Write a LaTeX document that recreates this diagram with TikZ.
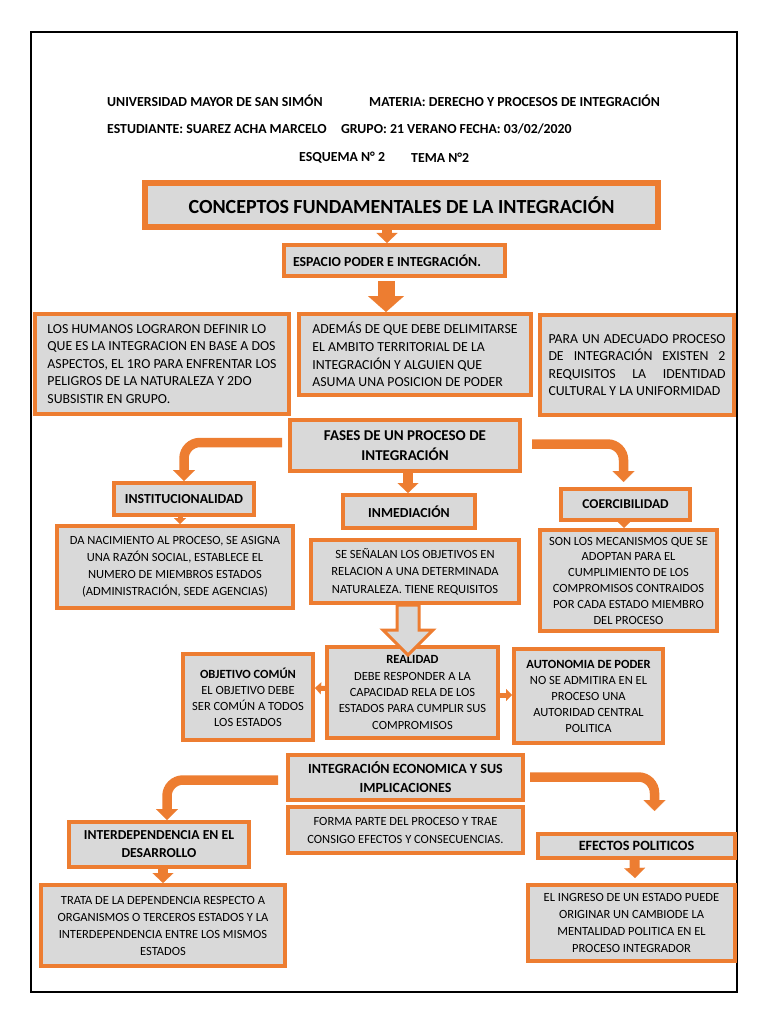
\documentclass[tikz,border=0pt]{standalone}
\usepackage{fontspec}
\setmainfont{Carlito}
\usetikzlibrary{arrows.meta}
\definecolor{naranja}{HTML}{ED7D31}
\definecolor{gris}{HTML}{D9D9D9}
\newcommand{\letra}[2]{\fontsize{#1}{#2}\selectfont}

\begin{document}
\begin{tikzpicture}[x=1pt, y=-1pt,
	caja/.style={draw=naranja, fill=gris, line width=4pt, align=center, inner sep=2pt, font=\letra{12.5}{17}},
	cabecera/.style={anchor=west, inner sep=0pt, font=\letra{13.8}{16}\bfseries},
	flecha/.style={draw=naranja, line width=10pt, -{Triangle[width=21pt,length=10pt,line width=0.1pt]}},
	flechagrande/.style={draw=naranja, line width=17pt, -{Triangle[width=36pt,length=16pt,line width=0.1pt]}},
	curva/.style={draw=naranja, line width=9.5pt, rounded corners=16pt, -{Triangle[width=22pt,length=11pt,line width=0.1pt]}},
	punta/.style={draw=naranja, line width=5pt, -{Triangle[width=12pt,length=6pt,line width=0.1pt]}},
	hueca/.style={draw=naranja, fill=gris, line width=3pt, line join=miter}]
	\useasboundingbox (0,0) rectangle (768,1024);
	\draw[line width=2pt] (31,32) rectangle (737,992);

	\node[cabecera] (univ) at (107,101) {UNIVERSIDAD MAYOR DE SAN SIMÓN};
	\node[cabecera] (materia) at (369,101) {MATERIA: DERECHO Y PROCESOS DE INTEGRACIÓN};
	\node[cabecera] (estud) at (107,129) {ESTUDIANTE: SUAREZ ACHA MARCELO};
	\node[cabecera] (grupo) at (341,129) {GRUPO: 21 VERANO FECHA: 03/02/2020};
	\node[cabecera] (esquema) at (299,158) {ESQUEMA N° 2};
	\node[cabecera] (tema) at (411,158) {TEMA N°2};

	\node[caja, line width=6pt, minimum width=513pt, minimum height=44pt, font=\letra{20}{24}\bfseries] (titulo) at (401.5,205) {CONCEPTOS FUNDAMENTALES DE LA INTEGRACIÓN};
	\node[caja, minimum width=221pt, minimum height=31pt, text width=203pt, inner xsep=9pt, align=flush left, font=\letra{13.8}{16}\bfseries] (espacio) at (394.5,260.5) {ESPACIO PODER E INTEGRACIÓN.};

	\node[caja, minimum width=254pt, minimum height=100pt, align=left, font=\letra{13.8}{17.5}] (humanos) at (162,364) {LOS HUMANOS LOGRARON DEFINIR LO\\ QUE ES LA INTEGRACION EN BASE A DOS\\ ASPECTOS, EL 1RO PARA ENFRENTAR LOS\\ PELIGROS DE LA NATURALEZA Y 2DO\\ SUBSISTIR EN GRUPO.};
	\node[caja, minimum width=232pt, minimum height=81pt, align=left, font=\letra{13.8}{17.7}] (ademas) at (415,354.5) {ADEMÁS DE QUE DEBE DELIMITARSE\\ EL AMBITO TERRITORIAL DE LA\\ INTEGRACIÓN Y ALGUIEN QUE\\ ASUMA UNA POSICION DE PODER};
	\node[caja, minimum width=194pt, minimum height=100pt, align=left, font=\letra{13.8}{17.3}] (para) at (637,365) {\makebox[177pt][s]{PARA UN ADECUADO PROCESO}\\ \makebox[177pt][s]{DE INTEGRACIÓN EXISTEN 2}\\ \makebox[177pt][s]{REQUISITOS LA IDENTIDAD}\\ CULTURAL Y LA UNIFORMIDAD};

	\node[caja, minimum width=230pt, minimum height=51pt, font=\letra{15}{20}\bfseries] (fases) at (405,445.5) {FASES DE UN PROCESO DE\\ INTEGRACIÓN};
	\node[caja, minimum width=140pt, minimum height=32pt, font=\letra{13.8}{16}\bfseries] (inst) at (184,499) {INSTITUCIONALIDAD};
	\node[caja, minimum width=132pt, minimum height=33pt, font=\letra{13.8}{16}\bfseries] (inmed) at (409,511.5) {INMEDIACIÓN};
	\node[caja, minimum width=129pt, minimum height=31pt, font=\letra{13.5}{16}\bfseries] (coerc) at (625.5,504.5) {COERCIBILIDAD};

	\node[caja, minimum width=236pt, minimum height=82pt] (nacim) at (175,567) {DA NACIMIENTO AL PROCESO, SE ASIGNA\\ UNA RAZÓN SOCIAL, ESTABLECE EL\\ NUMERO DE MIEMBROS ESTADOS\\ (ADMINISTRACIÓN, SEDE AGENCIAS)};
	\node[caja, minimum width=208pt, minimum height=63pt, font=\letra{12.5}{17.5}] (senal) at (415,571.5) {SE SEÑALAN LOS OBJETIVOS EN\\ RELACION A UNA DETERMINADA\\ NATURALEZA. TIENE REQUISITOS};
	\node[caja, minimum width=177pt, minimum height=101pt, font=\letra{12.5}{15.8}] (mecan) at (628.5,580.5) {SON LOS MECANISMOS QUE SE\\ ADOPTAN PARA EL\\ CUMPLIMIENTO DE LOS\\ COMPROMISOS CONTRAIDOS\\ POR CADA ESTADO MIEMBRO\\ DEL PROCESO};

	\node[caja, minimum width=171pt, minimum height=91pt, font=\letra{12.5}{16.3}] (real) at (412.5,692.5) {{\bfseries REALIDAD}\\ DEBE RESPONDER A LA\\ CAPACIDAD RELA DE LOS\\ ESTADOS PARA CUMPLIR SUS\\ COMPROMISOS};
	\node[caja, minimum width=130pt, minimum height=86pt, font=\letra{12.5}{16}] (objet) at (248,697) {{\bfseries OBJETIVO COMÚN}\\ EL OBJETIVO DEBE\\ SER COMÚN A TODOS\\ LOS ESTADOS};
	\node[caja, minimum width=149pt, minimum height=94pt, font=\letra{12.5}{16}] (auton) at (588.5,696) {{\bfseries AUTONOMIA DE PODER}\\ NO SE ADMITIRA EN EL\\ PROCESO UNA\\ AUTORIDAD CENTRAL\\ POLITICA};
	\draw[hueca] ([xshift=-18pt]senal.south) -- ++(0,25) -- ++(-14,0) -- ++(25,25) -- ++(25,-25) -- ++(-14,0) -- ++(0,-25) -- cycle;

	\node[caja, minimum width=235pt, minimum height=45pt, font=\letra{14}{19}\bfseries] (econ) at (405.5,777.5) {INTEGRACIÓN ECONOMICA Y SUS\\ IMPLICACIONES};
	\node[caja, minimum width=235pt, minimum height=46pt, font=\letra{12.5}{18}] (forma) at (405.5,830) {FORMA PARTE DEL PROCESO Y TRAE\\ CONSIGO EFECTOS Y CONSECUENCIAS.};
	\node[caja, minimum width=180pt, minimum height=45pt, font=\letra{13.7}{18}\bfseries] (interdep) at (159,844.5) {INTERDEPENDENCIA EN EL\\ DESARROLLO};
	\node[caja, minimum width=244pt, minimum height=81pt] (trata) at (163,925.5) {TRATA DE LA DEPENDENCIA RESPECTO A\\ ORGANISMOS O TERCEROS ESTADOS Y LA\\ INTERDEPENDENCIA ENTRE LOS MISMOS\\ ESTADOS};
	\node[caja, minimum width=197pt, minimum height=24pt, font=\letra{14.2}{16}\bfseries] (efectos) at (636.5,846) {EFECTOS POLITICOS};
	\node[caja, minimum width=207pt, minimum height=76pt] (ingreso) at (631.5,923) {EL INGRESO DE UN ESTADO PUEDE\\ ORIGINAR UN CAMBIODE LA\\ MENTALIDAD POLITICA EN EL\\ PROCESO INTEGRADOR};

	\draw[flecha] ([xshift=-14.5pt,yshift=5pt]titulo.south) -- ([xshift=-7.5pt]espacio.north);
	\draw[flechagrande] ([xshift=-8.5pt,yshift=-3pt]espacio.south) -- ([xshift=-29pt]ademas.north);
	\draw[curva] ([xshift=-6pt,yshift=3pt]fases.west) -| (inst.north);
	\draw[curva] ([xshift=10pt,yshift=1.5pt]fases.east) -| ([xshift=-2pt,yshift=5pt]coerc.north);
	\draw[flecha] ([xshift=3pt]fases.south) -- ([xshift=-1pt]inmed.north);
	\draw[punta] ([xshift=-4pt]inst.south) -- ([xshift=5pt]nacim.north);
	\draw[punta] ([xshift=-1.5pt]coerc.south) -- ([xshift=-4.5pt]mecan.north);
	\draw[punta] ([yshift=4pt]real.west) -- ([yshift=9pt]objet.east);
	\draw[punta] ([yshift=-2.5pt]real.east) -- ([yshift=1pt]auton.west);
	\draw[curva] ([xshift=-8pt,yshift=-2.5pt]econ.west) -| ([xshift=8pt]interdep.north);
	\draw[curva] ([xshift=5pt,yshift=0.5pt]econ.east) -| ([xshift=18pt,yshift=21pt]efectos.north);
	\draw[flecha] ([xshift=4pt]interdep.south) -- (trata.north);
	\draw[flecha] ([xshift=-2pt]efectos.south) -- ([xshift=3.5pt,yshift=5pt]ingreso.north);
\end{tikzpicture}
\end{document}
